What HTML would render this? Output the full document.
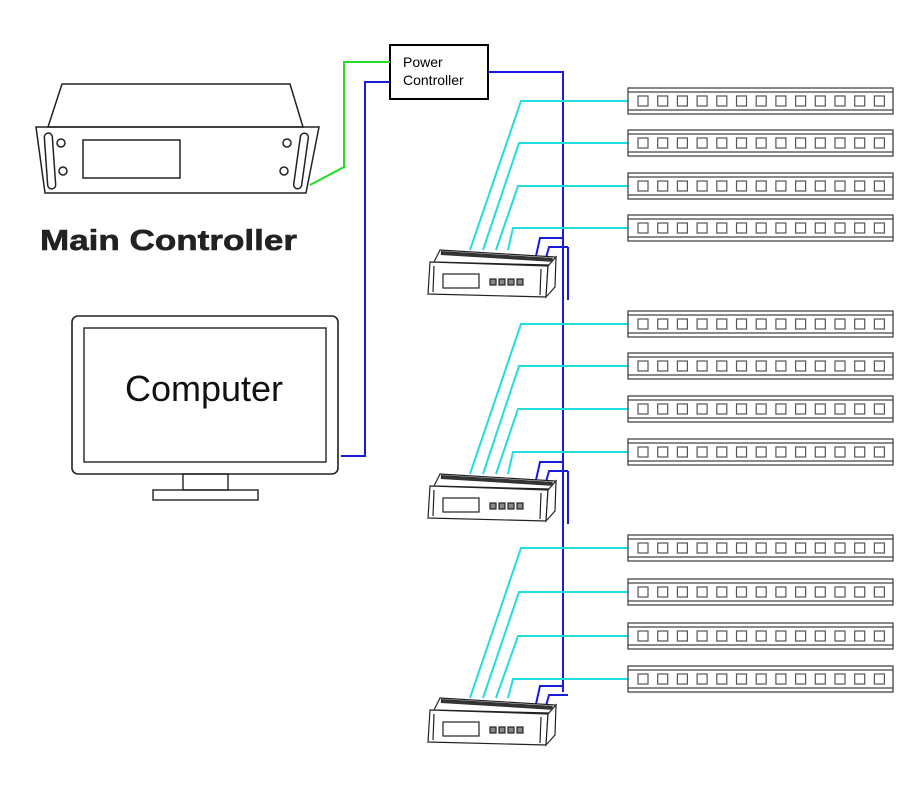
<!DOCTYPE html>
<html><head><meta charset="utf-8"><style>
html,body{margin:0;padding:0;background:#fff;width:908px;height:790px;overflow:hidden}
svg{display:block}
</style></head><body>
<svg id="s" width="908" height="790" viewBox="0 0 908 790" xmlns="http://www.w3.org/2000/svg" font-family="Liberation Sans, Arial, sans-serif">
<g fill="none" stroke="#222" stroke-width="1.5">
<polygon points="62,84 290,84 303,127 48,127"/>
<polygon points="36,127 319,127 306,193 45,193"/>
<rect x="83" y="140" width="97" height="38"/>
<rect x="46" y="133" width="8" height="56" rx="4" transform="rotate(-4 50 161)"/>
<rect x="297" y="133" width="8" height="56" rx="4" transform="rotate(8 301 161)"/>
<circle cx="61" cy="143" r="4"/><circle cx="63" cy="171" r="4"/>
<circle cx="287" cy="143" r="4"/><circle cx="284" cy="171" r="4"/>
</g>
<text x="40" y="250" font-size="29" font-weight="bold" fill="#222" stroke="#222" stroke-width="0.6" textLength="257" lengthAdjust="spacingAndGlyphs">Main Controller</text>
<rect x="72" y="316" width="266" height="158" rx="6" fill="none" stroke="#222" stroke-width="1.6"/>
<rect x="84" y="328" width="242" height="134" fill="none" stroke="#222" stroke-width="1.4"/>
<rect x="183" y="474" width="45" height="16" fill="none" stroke="#222" stroke-width="1.4"/>
<rect x="153" y="490" width="105" height="10" fill="none" stroke="#222" stroke-width="1.4"/>
<text x="204" y="401" font-size="36" text-anchor="middle" fill="#111">Computer</text>
<rect x="390" y="45" width="98" height="54" fill="#fff" stroke="#000" stroke-width="2"/>
<text x="403" y="67" font-size="14" fill="#000">Power</text>
<text x="403" y="85" font-size="14" fill="#000">Controller</text>
<polyline points="310,185 344,167 344,62 390,62" fill="none" stroke="#22dd22" stroke-width="2"/>
<polyline points="341,456 365,456 365,82 390,82" fill="none" stroke="#1a1add" stroke-width="2"/>
<polyline points="488,72 563,72 563,692" fill="none" stroke="#1a1add" stroke-width="2"/>
<g id="dyn"></g>
</svg>
<script>
var g=document.getElementById('dyn'),h='';
var groups=[[101,143,186,228],[324,366,409,452],[548,592,636,679]];
var offs=[0,224,448];
for(var k=0;k<3;k++){
 var o=offs[k];
 var tx=[521,519,518,513],bx=[470,483,496,508];
 for(var i=0;i<4;i++){
  var y=groups[k][i];
  h+='<polyline points="628,'+y+' '+tx[i]+','+y+' '+bx[i]+','+(250+o)+'" fill="none" stroke="#22dddd" stroke-width="2"/>';
  h+='<rect x="628" y="'+(y-13)+'" width="265" height="26" fill="#fff" stroke="#444" stroke-width="1.3"/>';
  h+='<line x1="628" y1="'+(y-9)+'" x2="893" y2="'+(y-9)+'" stroke="#444" stroke-width="1.2"/>';
  h+='<line x1="628" y1="'+(y+9)+'" x2="893" y2="'+(y+9)+'" stroke="#444" stroke-width="1.2"/>';
  for(var j=0;j<13;j++){h+='<rect x="'+(638+j*19.7)+'" y="'+(y-5)+'" width="10" height="10" fill="none" stroke="#555" stroke-width="1.2"/>';}
 }
 h+='<polyline points="563,'+(238+o)+' 540,'+(238+o)+' 536,'+(256+o)+'" fill="none" stroke="#1a1add" stroke-width="2"/>';
 h+='<polyline points="568,'+(247+o)+' 549,'+(247+o)+' 546,'+(258+o)+'" fill="none" stroke="#1a1add" stroke-width="2"/>';
 if(k<2)h+='<line x1="568" y1="'+(247+o)+'" x2="568" y2="'+(300+o)+'" stroke="#1a1add" stroke-width="2"/>';
 var t=o;
 h+='<g fill="#fff" stroke="#222" stroke-width="1.2">'+
 '<polygon points="440,'+(250+t)+' 556,'+(257+t)+' 550,'+(265+t)+' 434,'+(262+t)+'"/>'+
 '<polygon points="430,'+(262+t)+' 548,'+(266+t)+' 546,'+(297+t)+' 428,'+(294+t)+'"/>'+
 '<polygon points="548,'+(266+t)+' 556,'+(257+t)+' 555,'+(287+t)+' 546,'+(297+t)+'"/>'+
 '<rect x="443" y="'+(274+t)+'" width="36" height="14"/>'+
 '<line x1="434" y1="'+(266+t)+'" x2="433" y2="'+(292+t)+'"/><line x1="541" y1="'+(269+t)+'" x2="540" y2="'+(295+t)+'"/>';
 for(var m=0;m<4;m++)h+='<rect x="'+(490+m*9)+'" y="'+(279+t)+'" width="6" height="6" fill="#888"/>';
 h+='</g>';
 h+='<rect x="441" y="'+(251+t)+'" width="112" height="4" fill="#333" transform="rotate(3.5 441 '+(251+t)+')"/>';
}
g.innerHTML=h;
</script>
</body></html>
